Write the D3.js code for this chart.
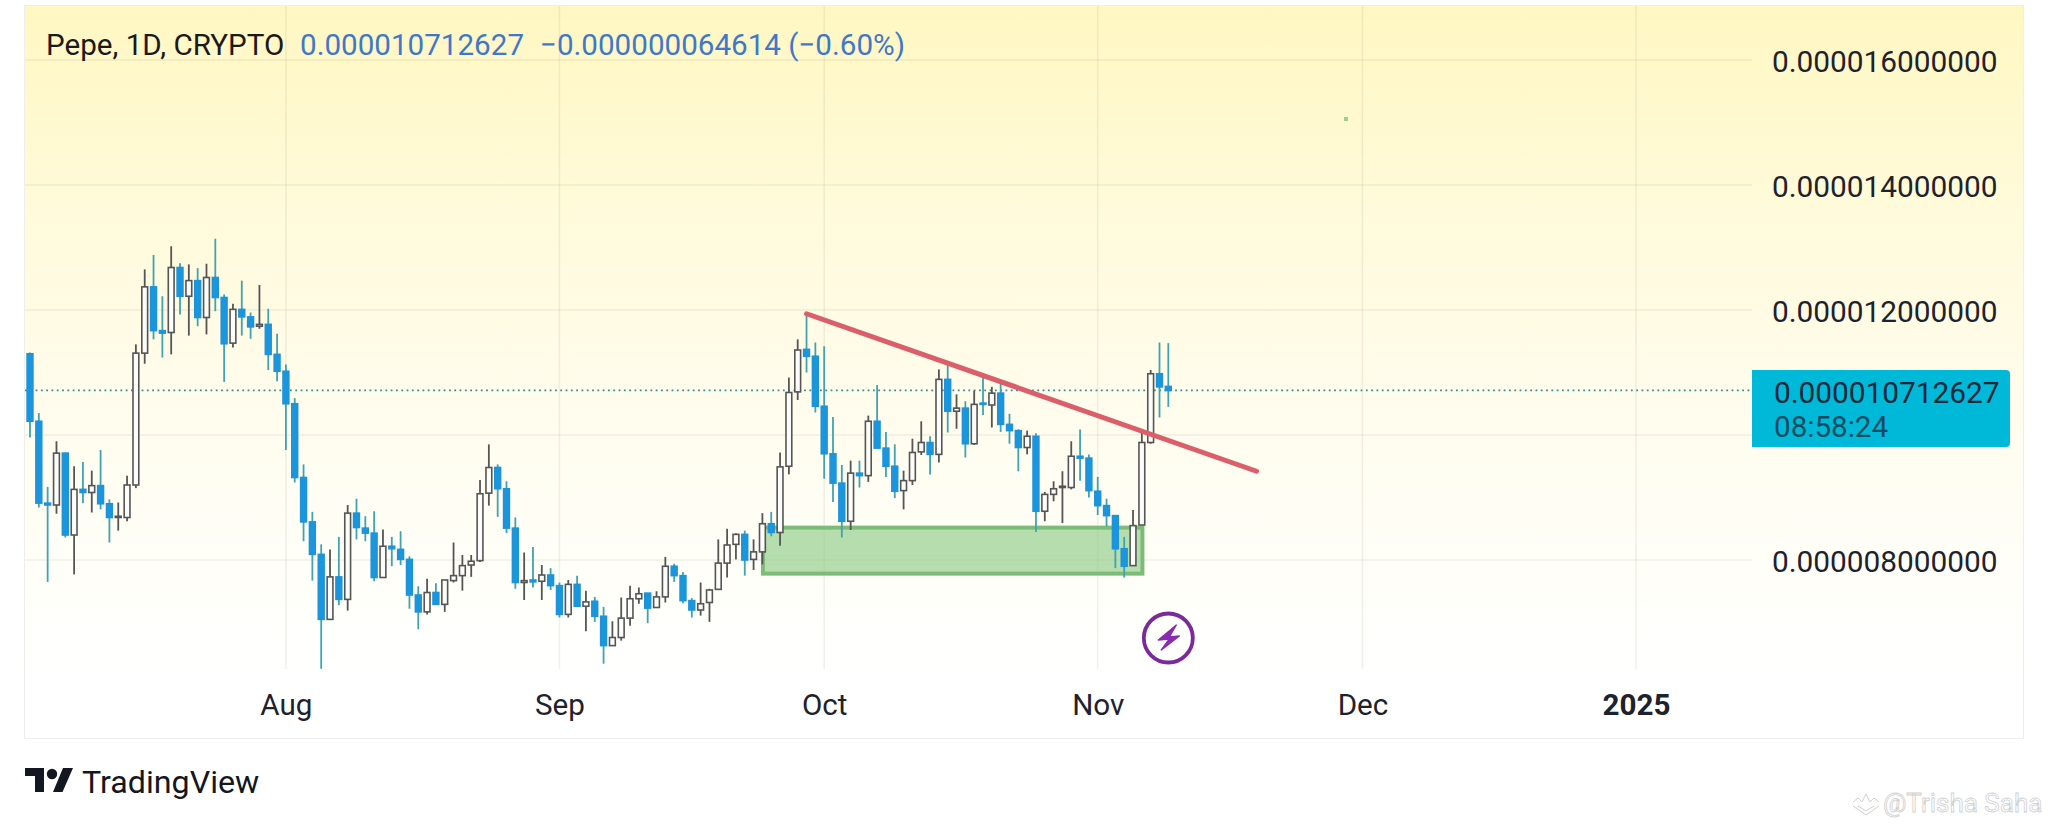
<!DOCTYPE html>
<html>
<head>
<meta charset="utf-8">
<title>Pepe, 1D, CRYPTO</title>
<script src="https://cdn.jsdelivr.net/npm/d3@7"></script>
<style>
  html, body { margin: 0; padding: 0; background: #fff; }
  svg { display: block; }
  text { font-family: Roboto, sans-serif; }
</style>
</head>
<body>
<svg id="chart" width="2048" height="825"></svg>
<script>
// daily candles, prices in millionths, first one is 3 Jul 2024
var firstDay = "2024-07-03";
var opens = [11.30,10.22,8.91,8.88,9.71,8.40,9.13,9.08,9.19,8.90,
  8.68,8.68,9.20,11.31,12.37,11.67,11.64,12.68,12.22,12.47,
  11.88,12.52,12.20,11.47,12.01,11.89,11.74,11.77,11.29,11.02,
  10.50,9.32,8.61,8.09,7.05,7.73,7.37,8.75,8.51,8.43,
  7.72,8.22,8.17,8.01,7.44,7.17,7.48,7.29,7.67,7.75,
  7.92,7.99,9.07,9.48,9.14,8.51,7.64,7.68,7.66,7.76,
  7.59,7.13,7.61,7.26,7.34,7.10,6.63,6.76,7.07,7.38,
  7.47,7.24,7.41,7.90,7.75,7.35,7.20,7.32,7.53,7.95,
  8.25,8.41,8.01,8.13,8.58,8.44,9.50,10.69,11.37,11.26,
  10.46,9.70,9.23,8.62,9.39,9.35,10.22,9.79,9.50,9.11,
  9.27,9.73,9.88,9.69,10.89,10.38,10.43,9.86,10.51,10.48,
  10.67,10.17,10.07,9.80,9.98,8.78,9.05,9.16,9.16,9.66,
  9.63,9.10,8.87,8.71,8.18,7.91,8.56,9.88,10.98,10.777];
var highs = [11.32,10.35,9.17,9.90,9.72,9.50,9.57,9.43,9.76,8.97,
  8.92,9.35,11.45,12.65,12.88,12.22,13.02,12.75,12.73,12.67,
  12.74,13.14,12.25,12.10,12.47,11.96,12.40,12.02,11.62,11.13,
  10.59,9.53,8.77,8.25,8.17,8.37,8.88,8.98,8.70,8.78,
  8.49,8.37,8.46,8.06,7.58,7.70,7.63,7.68,8.28,8.08,
  8.08,9.28,9.85,9.53,9.26,8.68,8.12,8.21,7.92,7.87,
  7.64,7.68,7.75,7.51,7.41,7.25,7.02,7.40,7.59,7.56,
  7.47,7.50,8.05,7.94,7.81,7.39,7.64,7.54,8.33,8.50,
  8.43,8.47,8.33,8.75,8.77,9.72,10.92,11.53,11.95,11.48,
  11.42,10.29,9.52,9.59,9.59,10.31,10.80,10.05,9.85,9.43,
  9.94,10.22,9.98,11.05,11.16,10.65,10.54,10.71,10.92,10.77,
  10.88,10.34,10.09,10.07,10.03,9.09,9.26,9.42,9.90,10.09,
  9.69,9.33,8.98,8.72,8.37,8.80,10.05,11.04,11.48,11.47];
var lows = [9.96,8.84,7.65,8.74,8.36,7.77,8.91,8.76,8.81,8.28,
  8.47,8.62,9.15,11.14,11.53,11.24,11.29,11.93,11.59,11.74,
  11.61,11.98,10.85,11.40,11.59,11.54,11.70,11.04,10.86,9.76,
  9.24,8.30,7.67,6.26,7.05,7.28,7.19,8.33,8.30,7.66,
  7.72,7.90,7.92,7.22,6.89,7.13,7.29,7.17,7.64,7.51,
  7.73,7.97,8.87,8.69,8.43,7.54,7.36,7.56,7.36,7.52,
  7.08,7.08,7.26,6.86,7.01,6.34,6.63,6.71,6.95,7.30,
  6.99,7.24,7.32,7.65,7.31,7.08,7.11,7.01,7.53,7.72,
  8.01,7.75,7.84,7.93,8.38,8.23,9.37,10.56,11.00,10.36,
  9.30,8.93,8.36,8.48,9.16,9.25,9.79,9.33,8.99,8.81,
  9.20,9.68,9.37,9.56,10.04,10.10,9.64,9.84,10.32,10.12,
  10.05,9.86,9.42,9.69,8.45,8.62,8.94,8.59,9.13,9.27,
  9.00,8.72,8.54,7.87,7.72,7.91,8.56,9.86,10.28,10.45];
var closes = [10.22,8.91,8.88,9.71,8.40,9.13,9.08,9.19,8.90,8.68,
  8.70,9.20,11.31,12.37,11.67,11.63,12.68,12.22,12.47,11.88,
  12.52,12.20,11.46,12.01,11.89,11.73,11.77,11.29,11.02,10.50,
  9.32,8.61,8.09,7.05,7.73,7.37,8.75,8.52,8.43,7.72,
  8.22,8.18,8.01,7.44,7.17,7.48,7.29,7.68,7.75,7.91,
  7.98,9.06,9.48,9.14,8.51,7.64,7.67,7.65,7.76,7.59,
  7.13,7.61,7.26,7.33,7.10,6.63,6.76,7.07,7.38,7.46,
  7.23,7.41,7.90,7.75,7.35,7.20,7.30,7.52,7.95,8.24,
  8.41,8.00,8.13,8.58,8.44,9.49,10.68,11.36,11.26,10.46,
  9.70,9.23,8.62,9.39,9.35,10.22,9.79,9.50,9.10,9.27,
  9.72,9.88,9.69,10.89,10.38,10.43,9.86,10.49,10.49,10.67,
  10.17,10.07,9.80,9.98,8.78,9.05,9.14,9.18,9.66,9.63,
  9.11,8.87,8.71,8.18,7.90,8.55,9.88,10.98,10.77,10.712627];

var priceTicks = [8, 12, 14, 16];
var priceGrid = [8, 10, 12, 14, 16];
var monthTicks = ["2024-08-01", "2024-09-01", "2024-10-01", "2024-11-01", "2024-12-01", "2025-01-01"];
var monthLabels = ["Aug", "Sep", "Oct", "Nov", "Dec", "2025"];

var lastPrice = 10.712627;
var legendName = "Pepe, 1D, CRYPTO";
var legendPrice = "0.000010712627";
var legendChange = "\u22120.000000064614 (\u22120.60%)";
var countdown = "08:58:24";

// drawn shapes on the chart
var trendDates = ["2024-09-29", "2024-11-19"];
var trendPrices = [11.94, 9.42];
var zoneDates = ["2024-09-23T20:00Z", "2024-11-06T07:00Z"];
var zonePrices = [8.55, 7.75];

var svg = d3.select("#chart");
var day = d3.utcParse("%Y-%m-%d");
var parseDate = function(s) { return s.length > 10 ? new Date(s) : day(s); };

var x = d3.scaleUtc().domain([day(firstDay), day("2025-01-01")]).range([30, 1636]);
var y = d3.scaleLinear().domain([6, 16]).range([685, 60]);

var candles = opens.map(function(o, i) {
  return {date: d3.utcDay.offset(day(firstDay), i), o: o, h: highs[i], l: lows[i], c: closes[i]};
});

var defs = svg.append("defs");
var grad = defs.append("linearGradient").attr("id", "bg").attr("x1", 0).attr("x2", 0).attr("y1", 0).attr("y2", 1);
grad.append("stop").attr("offset", "0%").attr("stop-color", "#fff7c2");
grad.append("stop").attr("offset", "28%").attr("stop-color", "#fffad8");
grad.append("stop").attr("offset", "58%").attr("stop-color", "#fffcec");
grad.append("stop").attr("offset", "88%").attr("stop-color", "#fffffa");
grad.append("stop").attr("offset", "100%").attr("stop-color", "#ffffff");

svg.append("rect").attr("x", 24.5).attr("y", 5.5).attr("width", 1999).attr("height", 733)
  .attr("fill", "#fff").attr("stroke", "#eeeeec");
svg.append("rect").attr("x", 25).attr("y", 6).attr("width", 1998).attr("height", 664).attr("fill", "url(#bg)");

// grid
svg.append("g").selectAll("line").data(priceGrid).join("line")
  .attr("x1", 25).attr("x2", 1752)
  .attr("y1", function(d) { return y(d); }).attr("y2", function(d) { return y(d); })
  .attr("stroke", "#8a8a70").attr("stroke-opacity", 0.13).attr("stroke-width", 1.5);
svg.append("g").selectAll("line").data(monthTicks).join("line")
  .attr("x1", function(d) { return x(day(d)); }).attr("x2", function(d) { return x(day(d)); })
  .attr("y1", 6).attr("y2", 669)
  .attr("stroke", "#8a8a70").attr("stroke-opacity", 0.13).attr("stroke-width", 1.5);

// price line
svg.append("line").attr("x1", 25).attr("x2", 1750)
  .attr("y1", y(lastPrice)).attr("y2", y(lastPrice))
  .attr("stroke", "#2f8f9c").attr("stroke-width", 1.8).attr("stroke-dasharray", "1.8 3.5");

// support zone
var zx0 = x(parseDate(zoneDates[0])), zx1 = x(parseDate(zoneDates[1]));
svg.append("rect")
  .attr("x", zx0 + 2).attr("y", y(zonePrices[0]) + 2)
  .attr("width", zx1 - zx0 - 4).attr("height", y(zonePrices[1]) - y(zonePrices[0]) - 4)
  .attr("fill", "#8fcb85").attr("fill-opacity", 0.65)
  .attr("stroke", "#7dbb78").attr("stroke-width", 4);

// candles
var candle = svg.append("g").selectAll("g").data(candles).join("g");
candle.append("line")
  .attr("x1", function(d) { return x(d.date); }).attr("x2", function(d) { return x(d.date); })
  .attr("y1", function(d) { return y(d.h); }).attr("y2", function(d) { return y(d.l); })
  .attr("stroke", function(d) { return d.c >= d.o ? "#555555" : "#3fa3b0"; })
  .attr("stroke-width", 1.8);
candle.append("rect")
  .attr("x", function(d) { return x(d.date) - 2.9; }).attr("width", 5.8)
  .attr("y", function(d) { return y(Math.max(d.o, d.c)); })
  .attr("height", function(d) { return Math.max(1, Math.abs(y(d.o) - y(d.c))); })
  .attr("fill", function(d) { return d.c >= d.o ? "#fcfcfa" : "#1a96df"; })
  .attr("stroke", function(d) { return d.c >= d.o ? "#555555" : "#1f93d8"; })
  .attr("stroke-width", 1.6);

// trend line
svg.append("line")
  .attr("x1", x(day(trendDates[0]))).attr("y1", y(trendPrices[0]))
  .attr("x2", x(day(trendDates[1]))).attr("y2", y(trendPrices[1]))
  .attr("stroke", "#da5f6a").attr("stroke-width", 5).attr("stroke-linecap", "round");

// small green dot far right of the candles
svg.append("rect").attr("x", 1344).attr("y", 117).attr("width", 4).attr("height", 4).attr("fill", "#9fcf8f");

// axes
var yAxis = d3.axisRight(y).tickValues(priceTicks).tickSize(0).tickPadding(0)
  .tickFormat(function(d) { return (d / 1e6).toFixed(12); });
var gy = svg.append("g").attr("transform", "translate(1772,2)").call(yAxis);
gy.select(".domain").remove();
gy.selectAll("text").attr("font-size", 29.8).attr("fill", "#1e222d").attr("font-family", "Roboto, sans-serif");

var xAxis = d3.axisBottom(x).tickValues(monthTicks.map(function(d) { return day(d); })).tickSize(0).tickPadding(0)
  .tickFormat(function(d, i) { return monthLabels[i]; });
var gx = svg.append("g").attr("transform", "translate(0,694)").call(xAxis);
gx.select(".domain").remove();
gx.selectAll("text").attr("font-size", 29.6).attr("fill", "#1e222d").attr("font-family", "Roboto, sans-serif")
  .attr("font-weight", function(d, i) { return i === 5 ? 700 : 400; });

// last price tag
svg.append("path")
  .attr("d", "M1752,370H2006a4,4 0 0 1 4,4V443a4,4 0 0 1 -4,4H1752Z")
  .attr("fill", "#00b8d8");
svg.append("text").attr("x", 1774).attr("y", 403).attr("font-size", 29.8).attr("fill", "#10293a").text(legendPrice);
svg.append("text").attr("x", 1774).attr("y", 437).attr("font-size", 29.6).attr("fill", "#0c4d63").text(countdown);

// legend
var legend = svg.append("text").attr("y", 55).attr("font-size", 29.6);
legend.append("tspan").attr("x", 46).attr("fill", "#1a1a1a").text(legendName);
legend.append("tspan").attr("x", 300).attr("fill", "#3f78c9").text(legendPrice);
legend.append("tspan").attr("x", 540).attr("fill", "#3f78c9").text(legendChange);

// lightning mark
var bolt = svg.append("g").attr("transform", "translate(" + x(candles[129].date) + ",638)");
bolt.append("circle").attr("r", 24.5).attr("fill", "none").attr("stroke", "#7b2a9c").attr("stroke-width", 3.8);
bolt.append("path").attr("d", "M8,-13L-10,2L1,1L-7,12L11,-2L1,-1Z")
  .attr("fill", "#8a2bb2").attr("stroke", "#8a2bb2").attr("stroke-width", 1.4).attr("stroke-linejoin", "round");

// TradingView logo
svg.append("path").attr("d", "M25,768H44V792H35V776H25Z").attr("fill", "#131722");
svg.append("circle").attr("cx", 52).attr("cy", 774).attr("r", 5.2).attr("fill", "#131722");
svg.append("path").attr("d", "M63,768H73L62.5,792H53Z").attr("fill", "#131722");
svg.append("text").attr("x", 82).attr("y", 793).attr("font-size", 32.2).attr("fill", "#131722").text("TradingView");

// watermark
var wm = svg.append("g").attr("fill", "none").attr("stroke", "#cfcfcf").attr("stroke-width", 1);
wm.append("path").attr("d", "M1853,802L1858,798L1862,802L1866,794L1870,802L1874,798L1879,802");
wm.append("path").attr("d", "M1853,806L1866,815L1879,806");
wm.append("path").attr("d", "M1858,806L1866,811L1874,806");
svg.append("text").attr("x", 1883).attr("y", 812).attr("font-size", 26).attr("fill", "#fff")
  .attr("stroke", "#cfcfcf").attr("stroke-width", 0.8).text("@Trisha Saha");
</script>
</body>
</html>
